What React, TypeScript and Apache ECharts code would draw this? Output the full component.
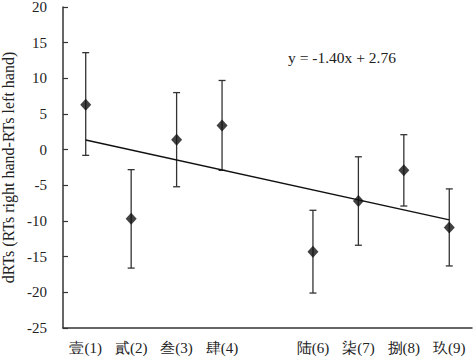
import React, { useEffect, useRef } from "react";
import * as echarts from "echarts";

const categories = ["壹(1)", "貳(2)", "叁(3)", "肆(4)", "", "陆(6)", "柒(7)", "捌(8)", "玖(9)"];
const means: (number | null)[] = [6.3, -9.7, 1.4, 3.4, null, -14.3, -7.2, -2.9, -10.9];
const upper: (number | null)[] = [13.6, -2.8, 8.0, 9.7, null, -8.5, -1.0, 2.1, -5.5];
const lower: (number | null)[] = [-0.8, -16.6, -5.2, -2.9, null, -20.1, -13.4, -7.9, -16.3];
const slope = -1.4;
const intercept = 2.76;
const fitX = [1, 9];
const yTicks = { min: -25, max: 20, interval: 5 };
const equationText = "y = -1.40x + 2.76";
const yAxisName = "dRTs (RTs right hand-RTs left hand)";

const FONT = "'Liberation Serif', 'Times New Roman', serif";
const TEXT = "#222";

export default function App() {
  const ref = useRef<HTMLDivElement>(null);
  useEffect(() => {
    if (!ref.current) return;
    const chart = echarts.init(ref.current, undefined, { renderer: "svg" });
    const pts = means
      .map((m, i) => (m === null ? null : [i, m]))
      .filter((d) => d !== null);
    const bars = means
      .map((m, i) => (m === null ? null : [i, lower[i], upper[i]]))
      .filter((d) => d !== null);
    const fit = fitX.map((x) => [x - 1, slope * x + intercept]);
    chart.setOption({
      animation: false,
      backgroundColor: "#fff",
      grid: { left: 63, right: 2, top: 7, bottom: 29, containLabel: false, outerBoundsMode: "none" },
      xAxis: {
        type: "category",
        data: categories,
        boundaryGap: true,
        axisLine: { onZero: false, lineStyle: { color: "#333", width: 1.5 } },
        axisTick: { show: false },
        axisLabel: { color: TEXT, fontFamily: FONT, fontSize: 15, margin: 12, interval: 0 },
      },
      yAxis: {
        type: "value",
        min: yTicks.min,
        max: yTicks.max,
        interval: yTicks.interval,
        name: yAxisName,
        nameLocation: "middle",
        nameGap: 42,
        nameRotate: 90,
        nameTextStyle: { color: TEXT, fontFamily: FONT, fontSize: 16 },
        axisLine: { show: true, lineStyle: { color: "#333", width: 1.5 } },
        axisTick: { show: true, inside: true, length: 5, lineStyle: { color: "#333", width: 1.2 } },
        splitLine: { show: false },
        axisLabel: { color: TEXT, fontFamily: FONT, fontSize: 15, margin: 16 },
      },
      graphic: [
        {
          type: "text",
          left: 288,
          top: 49,
          style: { text: equationText, font: `15.5px ${FONT}`, fill: TEXT },
        },
      ],
      series: [
        {
          type: "custom",
          data: bars,
          renderItem: (params: any, api: any) => {
            const x = api.value(0);
            const lo = api.coord([x, api.value(1)]);
            const hi = api.coord([x, api.value(2)]);
            const hw = 3.5;
            const style = { stroke: "#333", lineWidth: 1.3 };
            return {
              type: "group",
              children: [
                { type: "line", shape: { x1: lo[0], y1: lo[1], x2: hi[0], y2: hi[1] }, style },
                { type: "line", shape: { x1: lo[0] - hw, y1: lo[1], x2: lo[0] + hw, y2: lo[1] }, style },
                { type: "line", shape: { x1: hi[0] - hw, y1: hi[1], x2: hi[0] + hw, y2: hi[1] }, style },
              ],
            };
          },
          z: 2,
        },
        {
          type: "line",
          data: fit,
          symbol: "none",
          lineStyle: { color: "#111", width: 1.5 },
          z: 3,
        },
        {
          type: "scatter",
          data: pts,
          symbol: "diamond",
          symbolSize: [11, 12],
          itemStyle: { color: "#111" },
          z: 4,
        },
      ],
    });
    return () => chart.dispose();
  }, []);
  return <div ref={ref} style={{ width: 474, height: 357, position: "absolute", left: 0, top: 0 }} />;
}
